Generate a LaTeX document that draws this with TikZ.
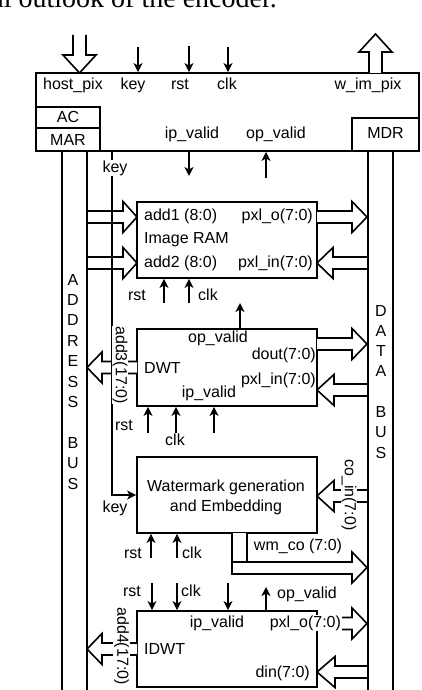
\documentclass[tikz,border=0pt]{standalone}
\usepackage{fontspec}
\setmainfont{Liberation Sans}
\newfontfamily\capfont{Liberation Serif}
\usetikzlibrary{arrows.meta,calc}
\newcommand\fatH[4]{\draw[fat] (#1,{#4-6}) -- (#2,{#4-6}) -- (#2,{#4-15.5}) -- (#3,#4) -- (#2,{#4+15.5}) -- (#2,{#4+6}) -- (#1,{#4+6});}
\begin{document}
\begin{tikzpicture}[x=1pt,y=-1pt,
  blk/.style={draw,line width=1.8pt,minimum width=180pt,minimum height=76pt,inner sep=0pt},
  lbl/.style={inner sep=0pt,font=\fontsize{16}{18}\selectfont},
  wlbl/.style={lbl,fill=white,inner sep=0.6pt},
  sig/.style={line width=1.4pt,-{Stealth[length=9pt,width=9pt,inset=2.5pt]}},
  bus/.style={line width=1.5pt},
  fat/.style={line width=1.6pt,fill=white,line join=miter},
]
\useasboundingbox (0,0) rectangle (422,690);
% caption (cut at top)
\node[anchor=base east,inner sep=0pt,font=\capfont\fontsize{28}{30}\selectfont] (cap) at (277,8) {al outlook of the encoder.};

% top controller box
\node[draw,line width=1.9pt,minimum width=383pt,minimum height=78pt,inner sep=0pt] (top) at (227.5,112) {};
\node[draw,line width=1.8pt,minimum width=64pt,minimum height=21pt,inner sep=0pt] (ac) at (68,117.5) {};
\node[draw,line width=1.8pt,minimum width=64pt,minimum height=23pt,inner sep=0pt] (mar) at (68,139.5) {};
\node[draw,line width=1.8pt,minimum width=67pt,minimum height=33pt,inner sep=0pt] (mdr) at (385.5,134.5) {};

% blocks
\node[blk] (ram) at (227,240) {};
\node[blk,minimum height=77pt] (dwt) at (227,367.5) {};
\node[blk] (wm) at (227,495) {};
\node[blk] (idwt) at (227,649) {};

% hollow (bus) arrows
\draw[fat] (73,35) -- (73,55) -- (63,55) -- (79.5,73) -- (96,55) -- (86,55) -- (86,35);
\draw[fat] (369,73) -- (369,52) -- (359,52) -- (375.5,34) -- (392,52) -- (382,52) -- (382,73);
\fatH{87}{123}{137}{217}
\fatH{87}{123}{137}{263}
\fatH{317}{352}{367}{217}
\fatH{367}{333}{317}{263}
\fatH{317}{352}{367}{344}
\fatH{367}{334}{317}{390}
\fatH{137}{102}{87}{367.5}
\fatH{367}{334}{317}{496}
\fatH{317}{352}{367}{623.5}
\fatH{137}{102}{87}{649}
\fatH{367}{335}{317}{672}
\draw[fat] (247,533) -- (247,562) -- (352,562) -- (352,552) -- (367,567.5) -- (352,583) -- (352,574) -- (232,574) -- (232,533);
\draw[line width=1.6pt] (232,562) -- (247,562);

% buses
\coordinate (ab1) at (62,690);
\coordinate (ab2) at (87,690);
\coordinate (db1) at (368,690);
\coordinate (db2) at (393,690);
\draw[bus] (ab1 |- top.south) -- (ab1);
\draw[bus] (ab2 |- top.south) -- (ab2);
\draw[bus] (db1 |- top.south) -- (db1);
\draw[bus] (db2 |- top.south) -- (db2);

% key line
\coordinate (kt) at (112,0);
\draw[sig] (kt |- top.south) |- (wm.west);

% signal arrows
\coordinate (s1) at (138,47);
\coordinate (s2) at (189,46);
\coordinate (s3) at (228,47);
\draw[sig] (s1) -- (s1 |- top.north);
\draw[sig] (s2) -- (s2 |- top.north);
\draw[sig] (s3) -- (s3 |- top.north);
\coordinate (s4) at (189,176);
\coordinate (s5) at (266,178);
\draw[sig] (s4 |- top.south) -- (s4);
\draw[sig] (s5) -- (s5 |- top.south);
\coordinate (r1) at (164,303);
\coordinate (r2) at (189,303);
\draw[sig] (r1) -- (r1 |- ram.south);
\draw[sig] (r2) -- (r2 |- ram.south);
\coordinate (o1) at (240,303);
\draw[sig] (o1 |- dwt.north) -- (o1);
\coordinate (d1) at (148,433);
\coordinate (d2) at (176,433);
\coordinate (d3) at (214,433);
\draw[sig] (d1) -- (d1 |- dwt.south);
\draw[sig] (d2) -- (d2 |- dwt.south);
\draw[sig] (d3) -- (d3 |- dwt.south);
\coordinate (w1) at (151,558);
\coordinate (w2) at (177,558);
\draw[sig] (w1) -- (w1 |- wm.south);
\draw[sig] (w2) -- (w2 |- wm.south);
\coordinate (i1) at (152,583);
\coordinate (i2) at (177,583);
\coordinate (i3) at (228,583);
\coordinate (i4) at (266,587);
\draw[sig] (i1) -- (i1 |- idwt.north);
\draw[sig] (i2) -- (i2 |- idwt.north);
\draw[sig,line width=1.1pt] (i3) -- (i3 |- idwt.north);
\draw[sig] (i4 |- idwt.north) -- (i4);

% labels: top box
\node[lbl,anchor=base] (lhp) at (73,90) {host\_pix};
\node[lbl,anchor=base] (lkey) at (133,90) {key};
\node[lbl,anchor=base] (lrst) at (180,90) {rst};
\node[lbl,anchor=base] (lclk) at (227,90) {clk};
\node[lbl,anchor=base] (lwim) at (368,90) {w\_im\_pix};
\node[lbl,anchor=base] (lac) at (68,122) {AC};
\node[lbl,anchor=base] (lmar) at (68,145) {MAR};
\node[lbl,anchor=base] (lmdr) at (385.5,139) {MDR};
\node[lbl,anchor=base] (lipv) at (192,138) {ip\_valid};
\node[lbl,anchor=base] (lopv) at (276,138) {op\_valid};
\node[wlbl,anchor=base] (lkey2) at (115,172) {key};

% Image RAM
\node[lbl,anchor=base west] (ra1) at (144,220) {add1 (8:0)};
\node[lbl,anchor=base east] (ra2) at (313,220) {pxl\_o(7:0)};
\node[lbl,anchor=base west] (ra3) at (144,243) {Image RAM};
\node[lbl,anchor=base west] (ra4) at (144,267) {add2 (8:0)};
\node[lbl,anchor=base east] (ra5) at (313,267) {pxl\_in(7:0)};
\node[lbl,anchor=base] (ra6) at (137,300) {rst};
\node[lbl,anchor=base west] (ra7) at (198,300) {clk};

% DWT
\node[lbl,anchor=base] (dw1) at (218,342) {op\_valid};
\node[lbl,anchor=base east] (dw2) at (316,359) {dout(7:0)};
\node[lbl,anchor=base west] (dw3) at (144,373) {DWT};
\node[lbl,anchor=base east] (dw4) at (316,384) {pxl\_in(7:0)};
\node[lbl,anchor=base] (dw5) at (209,397) {ip\_valid};
\node[wlbl,rotate=-90] (dw6) at (120,365) {add3(17:0)};
\node[lbl,anchor=base] (dw7) at (124,430) {rst};
\node[lbl,anchor=base] (dw8) at (175,445) {clk};

% Watermark
\node[lbl,anchor=base] (wm1) at (226,491) {Watermark generation};
\node[lbl,anchor=base] (wm2) at (226,511) {and Embedding};
\node[lbl,anchor=base] (wm3) at (115,512) {key};
\node[wlbl,rotate=-90] (wm4) at (349,495) {co\_in(7:0)};
\node[lbl,anchor=base] (wm5) at (298,550) {wm\_co (7:0)};
\node[lbl,anchor=base] (wm6) at (133,558) {rst};
\node[lbl,anchor=base] (wm7) at (192,558) {clk};

% IDWT
\node[lbl,anchor=base] (id1) at (132,596) {rst};
\node[lbl,anchor=base] (id2) at (191,596) {clk};
\node[lbl,anchor=base west] (id3) at (277,598) {op\_valid};
\node[lbl,anchor=base] (id4) at (217,627) {ip\_valid};
\node[wlbl,anchor=base west] (id5) at (269,627) {pxl\_o(7:0)};
\node[lbl,anchor=base west] (id6) at (144,654) {IDWT};
\node[lbl,anchor=base east] (id7) at (310,677) {din(7:0)};
\node[wlbl,rotate=-90] (id8) at (121.5,646) {add4(17:0)};

% bus letters
\foreach \ch/\k in {A/0,D/1,D/2,R/3,E/4,S/5,S/6,B/8,U/9,S/10}
  \node[lbl,anchor=base] (ab\k) at (73,{285+20.4*\k}) {\ch};
\foreach \ch/\k in {D/0,A/1,T/2,A/3,B/5,U/6,S/7}
  \node[lbl,anchor=base] (db\k) at (381,{316+20.3*\k}) {\ch};
\end{tikzpicture}
\end{document}
